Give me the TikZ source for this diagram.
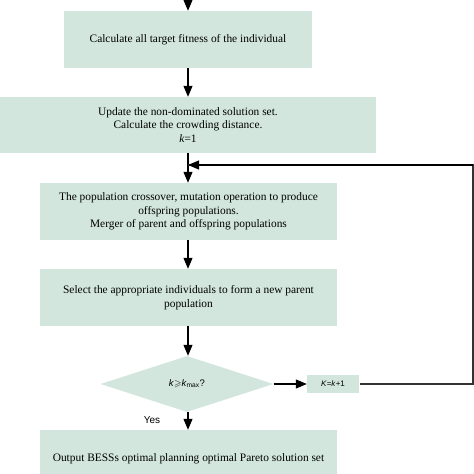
\documentclass[tikz,border=0pt]{standalone}
\usepackage{amssymb}
\usepackage{fontspec}
\setmainfont{Liberation Serif}
\setsansfont{Liberation Sans}
\usetikzlibrary{shapes.geometric, arrows.meta, positioning}

\definecolor{boxfill}{RGB}{210,230,222}

\begin{document}
\begin{tikzpicture}[
    x=1pt, y=1pt,
    stepbox/.style={rectangle, fill=boxfill, inner sep=0pt, align=center,
      font=\fontsize{11.4}{13.5}\selectfont},
    decide/.style={diamond, fill=boxfill, inner sep=0pt, aspect=3.1,
      font=\sffamily\fontsize{9.5}{11}\selectfont},
    small/.style={rectangle, fill=boxfill, inner sep=0pt,
      font=\sffamily\fontsize{8}{10}\selectfont},
    arrow/.style={-{Triangle[length=11pt, width=9pt]}, line width=1.1pt, black},
    line/.style={line width=1.2pt, black!80}
  ]

  % Frame
  \useasboundingbox (0,0) rectangle (474,474);
  \clip (0,0) rectangle (474,474);

  % Process boxes
  \node[stepbox, minimum width=248pt, minimum height=57pt] (fitness) at (188,434.5)
    {Calculate all target fitness of the individual};
  \node[stepbox, minimum width=376pt, minimum height=56pt] (update) at (188,349)
    {Update the non-dominated solution set.\\Calculate the crowding distance.\\\textit{k}=1};
  \node[stepbox, minimum width=297pt, minimum height=57pt] (cross) at (188.5,262.5)
    {The population crossover, mutation operation to produce\\offspring populations.\\Merger of parent and offspring populations};
  \node[stepbox, minimum width=297pt, minimum height=57pt] (select) at (188.5,176.5)
    {Select the appropriate individuals to form a new parent\\population};
  \node[decide, minimum width=173pt, minimum height=56pt] (check) at (187,90)
    {\textit{k}$\geqslant$\textit{k}\textsubscript{max}?};
  \node[small, minimum width=52pt, minimum height=18pt] (incr) at (333,90)
    {\textit{K}=\textit{k}+1};
  \node[stepbox, minimum width=297pt, minimum height=57pt] (output) at (188.5,15.5)
    {Output BESSs optimal planning optimal Pareto solution set};

  % Helper points
  \coordinate (start) at (188,474);
  \coordinate (corner) at (473,90);
  \coordinate (loop) at (188,309);

  % Main flow
  \draw[arrow] (start) -- (fitness.north -| start);
  \draw[arrow] (fitness.south -| start) -- (update.north -| start);
  \draw[arrow] (update.south -| start) -- (cross.north -| start);
  \draw[arrow] (cross.south -| start) -- (select.north -| start);
  \draw[arrow] (select.south -| start) -- (check.north -| start);
  \draw[arrow] (check.south -| start) -- (output.north -| start);
  \node[font=\sffamily\fontsize{10}{12}\selectfont] (yes) at (152,54) {Yes};

  % Loop back
  \draw[arrow] (check.east) -- (incr.west);
  \draw[line] (incr.east) ++(1,0) -- (corner) |- (loop);
  \draw[arrow] (corner |- loop) -- (loop);

\end{tikzpicture}
\end{document}
